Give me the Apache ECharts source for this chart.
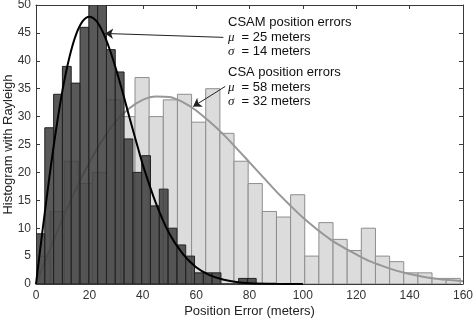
<!DOCTYPE html>
<html>
<head>
<meta charset="utf-8">
<script src="https://cdn.jsdelivr.net/npm/echarts@6/dist/echarts.min.js"></script>
<style>
html,body{margin:0;padding:0;background:#fff;}
#chart{width:474px;height:322px;}
</style>
</head>
<body>
<div id="chart"></div>
<script>
// ---- data ----
const xTicks = [0, 20, 40, 60, 80, 100, 120, 140, 160];
const yTicks = [0, 5, 10, 15, 20, 25, 30, 35, 40, 45, 50];

// CSAM histogram (dark)
const csamBinStart = 0;
const csamBinWidth = 3.3;
const csamCounts = [9, 28, 34, 39, 36, 46, 52, 51, 42, 38, 26, 20, 23, 14, 17, 10, 7, 5, 2, 2, 2, 0, 0, 1, 1];

// CSA histogram (light)
const csaBinStart = 0;
const csaBinWidth = 5.3;
const csaCounts = [5, 13, 22, 18, 20, 33, 30, 37, 30, 33, 34, 29, 35, 27, 22, 18, 13, 12, 16, 5, 11, 8, 6, 10, 5, 4, 2, 2, 1, 1];

// Rayleigh fit curves
const csamFitX = [0, 2.5, 5, 7.5, 10, 12.5, 15, 17.5, 20, 22.5, 25, 27.5, 30, 32.5, 35, 37.5, 40, 45, 50, 55, 60, 65, 70, 75, 80, 90, 100];
const csamFitY = [0, 9.8, 19.1, 27.6, 34.9, 40.6, 44.7, 47.1, 47.9, 47.2, 45.2, 42.2, 38.5, 34.3, 29.9, 25.6, 21.4, 14.4, 9.0, 5.4, 3.0, 1.6, 0.8, 0.35, 0.15, 0.03, 0];
const csaFitX = [0, 5, 10, 15, 20, 25, 30, 35, 40, 45, 50, 55, 60, 65, 70, 75, 80, 85, 90, 95, 100, 105, 110, 115, 120, 125, 130, 135, 140, 145, 150, 155, 160];
const csaFitY = [0, 6.0, 11.7, 17.1, 21.8, 25.9, 29.2, 31.5, 33.0, 33.6, 33.5, 32.6, 31.1, 29.1, 26.9, 24.4, 21.8, 19.2, 16.6, 14.2, 11.9, 9.9, 8.1, 6.6, 5.3, 4.1, 3.2, 2.4, 1.8, 1.3, 0.95, 0.7, 0.5];

// annotation texts and arrow anchors (data coordinates)
const csamLabel = ['CSAM position errors', '25', '14'];
const csaLabel = ['CSA position errors', '58', '32'];
const csamArrow = [[70.2, 44.2], [25.9, 44.9]];
const csaArrow = [[70.9, 35.4], [58.9, 31.8]];

// ---- build ----
function bins(start, width, counts) {
  return counts.map((c, i) => [start + i * width, start + (i + 1) * width, c]);
}
function pairs(xs, ys) { return xs.map((x, i) => [x, ys[i]]); }

function histRender(fill, stroke) {
  return function (params, api) {
    const a = api.coord([api.value(0), api.value(2)]);
    const b = api.coord([api.value(1), 0]);
    return {
      type: 'rect',
      shape: { x: a[0], y: a[1], width: b[0] - a[0], height: b[1] - a[1] },
      style: { fill: fill, stroke: stroke, lineWidth: 1 }
    };
  };
}

const FONT = '"Liberation Sans", Arial, Helvetica, sans-serif';
const axisCommon = {
  type: 'value',
  axisLine: { show: true, onZero: false, lineStyle: { color: '#3a3a3a', width: 1 } },
  axisTick: { show: true, inside: true, length: 4, lineStyle: { color: '#3a3a3a' } },
  splitLine: { show: false },
  nameMoveOverlap: false
};

const chart = echarts.init(document.getElementById('chart'), null, { renderer: 'canvas' });
const option = {
  animation: false,
  backgroundColor: '#fff',
  grid: { left: 36, right: 11, top: 5, bottom: 38, containLabel: false, outerBoundsMode: 'none' },
  xAxis: [
    Object.assign({}, axisCommon, {
      min: xTicks[0], max: xTicks[xTicks.length - 1], interval: xTicks[1] - xTicks[0],
      position: 'bottom',
      name: 'Position Error (meters)', nameLocation: 'middle', nameGap: 21,
      nameTextStyle: { fontFamily: FONT, fontSize: 13, color: '#222' },
      axisLabel: { fontFamily: FONT, fontSize: 12, color: '#333', margin: 6 }
    }),
    Object.assign({}, axisCommon, {
      min: xTicks[0], max: xTicks[xTicks.length - 1], interval: xTicks[1] - xTicks[0],
      position: 'top', axisLabel: { show: false }
    })
  ],
  yAxis: [
    Object.assign({}, axisCommon, {
      min: yTicks[0], max: yTicks[yTicks.length - 1], interval: yTicks[1] - yTicks[0],
      position: 'left',
      name: 'Histogram with Rayleigh', nameLocation: 'middle', nameGap: 21,
      nameTextStyle: { fontFamily: FONT, fontSize: 13, color: '#222' },
      axisLabel: { fontFamily: FONT, fontSize: 12, color: '#333', margin: 5 }
    }),
    Object.assign({}, axisCommon, {
      min: yTicks[0], max: yTicks[yTicks.length - 1], interval: yTicks[1] - yTicks[0],
      position: 'right', axisLabel: { show: false }
    })
  ],
  series: [
    {
      type: 'custom', name: 'CSA', clip: true, z: 1,
      renderItem: histRender('#dcdcdc', '#8e8e8e'),
      encode: { x: [0, 1], y: 2 },
      data: bins(csaBinStart, csaBinWidth, csaCounts)
    },
    {
      type: 'line', name: 'CSA fit', z: 2, showSymbol: false, smooth: 0.3,
      lineStyle: { color: '#979797', width: 2 },
      data: pairs(csaFitX, csaFitY),
      markLine: {
        silent: true, symbol: ['none', 'arrow'], symbolSize: 8, label: { show: false },
        lineStyle: { color: '#222', width: 1, type: 'solid' },
        data: [[{ coord: csaArrow[0] }, { coord: csaArrow[1] }]]
      }
    },
    {
      type: 'custom', name: 'CSAM', clip: true, z: 3,
      renderItem: histRender('rgba(62,62,62,0.86)', '#222'),
      encode: { x: [0, 1], y: 2 },
      data: bins(csamBinStart, csamBinWidth, csamCounts)
    },
    {
      type: 'line', name: 'CSAM fit', z: 4, showSymbol: false, smooth: 0.3,
      lineStyle: { color: '#000', width: 2 },
      data: pairs(csamFitX, csamFitY),
      markLine: {
        silent: true, symbol: ['none', 'arrow'], symbolSize: 8, label: { show: false },
        lineStyle: { color: '#222', width: 1, type: 'solid' },
        data: [[{ coord: csamArrow[0] }, { coord: csamArrow[1] }]]
      }
    }
  ],
  graphic: []
};

function block(lbl, top) {
  const rich = {
    t: { fontFamily: FONT, fontSize: 13, fill: '#111' },
    g: { fontFamily: '"Liberation Serif", "DejaVu Serif", serif', fontStyle: 'italic', fontSize: 13, fill: '#111', width: 10 }
  };
  return [
    { type: 'text', left: 228, top: top, z: 100, style: { text: lbl[0], font: '13px ' + FONT, fill: '#111' } },
    { type: 'text', left: 228, top: top + 15, z: 100, style: { text: '{g|\u03bc}{t| = ' + lbl[1] + ' meters}', rich: rich } },
    { type: 'text', left: 228, top: top + 29, z: 100, style: { text: '{g|\u03c3}{t| = ' + lbl[2] + ' meters}', rich: rich } }
  ];
}
option.graphic = block(csamLabel, 16).concat(block(csaLabel, 66));
chart.setOption(option);
</script>
</body>
</html>
